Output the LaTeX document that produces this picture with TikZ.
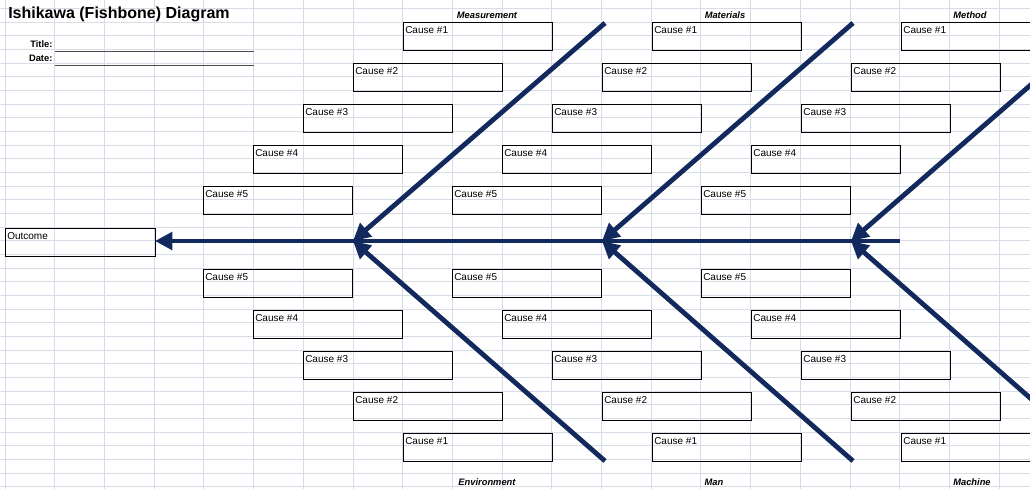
\documentclass[tikz,border=0pt]{standalone}
\usepackage{fontspec}
\setmainfont{Liberation Sans}
\usetikzlibrary{arrows.meta}
\definecolor{navy}{HTML}{12295E}
\definecolor{gridc}{HTML}{D6DDE6}
\begin{document}
\begin{tikzpicture}[x=0.75pt,y=-0.75pt,
  causebox/.style={draw=black,line width=1pt,minimum width=148.5*0.75pt,minimum height=28*0.75pt,anchor=north west,inner sep=0pt},
  ctext/.style={font=\fontsize{7.5}{8}\selectfont,anchor=north west,inner xsep=1.5pt,inner ysep=3pt},
  cat/.style={font=\fontsize{7}{8}\selectfont\bfseries\itshape},
  bone/.style={draw=navy,line width=3.6pt,-{Triangle[length=13pt,width=13pt]}}]
\useasboundingbox (0,0) rectangle (1030,489);
\clip (0,0) rectangle (1030,489);
\fill[white] (0,0) rectangle (1030,489);
\foreach \i in {0,...,20} \draw[gridc,line width=0.5pt] (5+49.7*\i,0) -- (5+49.7*\i,489);
\foreach \j in {0,...,35} \draw[gridc,line width=0.5pt] (0,8.3+13.67*\j) -- (1030,8.3+13.67*\j);
\node[font=\fontsize{12}{14}\selectfont\bfseries,anchor=west,inner sep=0pt] (title) at (8,14) {Ishikawa (Fishbone) Diagram};
\node[font=\fontsize{7}{8}\selectfont\bfseries,anchor=east,inner sep=1pt] (tl) at (54,44) {Title:};
\node[font=\fontsize{7}{8}\selectfont\bfseries,anchor=east,inner sep=1pt] (dl) at (54,58) {Date:};
\draw[black!70,line width=0.7pt] (55,51) -- (254,51) (55,65) -- (254,65);
% outcome
\node[causebox,minimum width=150*0.75pt] (out) at (5,228) {};
\node[ctext] at (out.north west) {Outcome};
% boxes
\foreach \g in {0,1,2}{
  \foreach \k/\n in {0/1,1/2,2/3,3/4,4/5}{
    \node[causebox] (u\g\k) at (403-50*\k+249*\g,22+41*\k) {};
    \node[ctext] at (u\g\k.north west) {Cause \#\n};
    \node[causebox] (l\g\k) at (403-50*\k+249*\g,433-41*\k) {};
    \node[ctext] at (l\g\k.north west) {Cause \#\n};
  }
}
% spine and bones
\coordinate (s0) at (155,241);
\coordinate (h1) at (353,241);
\coordinate (h2) at (602,241);
\coordinate (h3) at (851,241);
\coordinate (e) at (900,241);
\draw[bone] (e) -- (s0);
\coordinate (a1) at (605,23); \coordinate (b1) at (605,461);
\coordinate (a2) at (853,23); \coordinate (b2) at (853,461);
\coordinate (a3) at (1102,23); \coordinate (b3) at (1102,461);
\draw[bone] (a1) -- (h1); \draw[bone] (b1) -- (h1);
\draw[bone] (a2) -- (h2); \draw[bone] (b2) -- (h2);
\draw[bone] (a3) -- (h3); \draw[bone] (b3) -- (h3);
% categories
\node[cat] (c1) at (487,15) {Measurement};
\node[cat] (c2) at (725,15) {Materials};
\node[cat] (c3) at (970,15) {Method};
\node[cat] (c4) at (487,482) {Environment};
\node[cat] (c5) at (714,482) {Man};
\node[cat] (c6) at (972,482) {Machine};
\end{tikzpicture}
\end{document}
